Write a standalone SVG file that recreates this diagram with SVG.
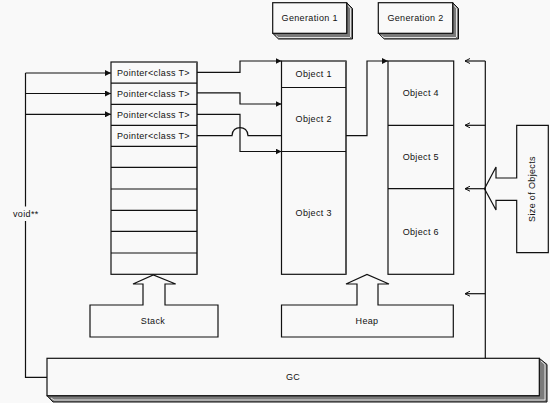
<svg xmlns="http://www.w3.org/2000/svg" width="550" height="403" viewBox="0 0 550 403">
<style>
  .bg{fill:#f9f9f9}
  .box{fill:#f9f9f9;stroke:#111;stroke-width:1.2}
  .thick{stroke:#555;stroke-width:2;fill:none}
  .depth{fill:#7a7a7a;stroke:#111;stroke-width:1}
  .hl{stroke:#fff;stroke-width:0.8;fill:none}
  .sep{stroke:#111;stroke-width:1.2}
  .con{fill:none;stroke:#111;stroke-width:1.2}
  text{font-family:"Liberation Sans",Arial,sans-serif;font-size:9px;letter-spacing:0.35px;fill:#111}
  .c{text-anchor:middle}
</style>
<defs>
  <marker id="arr" viewBox="0 0 6 6" refX="6" refY="3" markerWidth="6" markerHeight="6" markerUnits="userSpaceOnUse" orient="auto">
    <path d="M0,0 L6,3 L0,6 z" fill="#111"/>
  </marker>
  <marker id="open" viewBox="0 0 6 6" refX="6" refY="3" markerWidth="6" markerHeight="6" markerUnits="userSpaceOnUse" orient="auto">
    <path d="M1,0.5 L6,3 L1,5.5" fill="none" stroke="#111" stroke-width="1"/>
  </marker>
</defs>
<rect class="bg" x="0" y="0" width="550" height="403"/>

<g id="generation1">
  <polygon class="depth" points="346.7,2.7 352.5,8.5 352.5,39 278.5,39 272.7,33.3 346.7,33.3"/>
  <path class="hl" d="M348,5.5 L350.5,8.5 V37 M276,35.5 L278.5,37.5 H350"/>
  <rect class="box" x="272.7" y="2.7" width="74" height="30.6"/>
  <text class="c" x="309.7" y="21.2">Generation 1</text>
</g>
<g id="generation2">
  <polygon class="depth" points="452.7,2.7 458.5,8.5 458.5,39 384.3,39 378.3,33.3 452.7,33.3"/>
  <path class="hl" d="M454,5.5 L456.5,8.5 V37 M381.5,35.5 L384,37.5 H456"/>
  <rect class="box" x="378.3" y="2.7" width="74.4" height="30.6"/>
  <text class="c" x="415.5" y="21.2">Generation 2</text>
</g>

<g id="stack-column">
  <rect class="box" x="111" y="62" width="86" height="212.3"/>
  <line class="thick" x1="197" y1="62" x2="197" y2="274.3"/>
  <g class="sep">
    <line x1="111" y1="83.2" x2="197" y2="83.2"/>
    <line x1="111" y1="104.4" x2="197" y2="104.4"/>
    <line x1="111" y1="125.4" x2="197" y2="125.4"/>
    <line x1="111" y1="146.4" x2="197" y2="146.4"/>
    <line x1="111" y1="167.4" x2="197" y2="167.4"/>
    <line x1="111" y1="189" x2="197" y2="189"/>
    <line x1="111" y1="210.3" x2="197" y2="210.3"/>
    <line x1="111" y1="231.4" x2="197" y2="231.4"/>
    <line x1="111" y1="253" x2="197" y2="253"/>
  </g>
  <text x="117" y="75.8">Pointer&lt;class T&gt;</text>
  <text x="117" y="96.9">Pointer&lt;class T&gt;</text>
  <text x="117" y="118">Pointer&lt;class T&gt;</text>
  <text x="117" y="139">Pointer&lt;class T&gt;</text>
</g>

<g id="stack">
  <polygon class="box" points="90,305 143,305 143,284 133,284 153.3,275 175.7,284 165,284 165,305 218,305 218,337 90,337"/>
  <text class="c" x="153" y="324.3">Stack</text>
</g>

<g id="generation1-objects">
  <rect class="box" x="281.5" y="61" width="64.5" height="213.3"/>
  <line class="thick" x1="346" y1="61" x2="346" y2="274.3"/>
  <line class="sep" x1="281.5" y1="87.5" x2="346" y2="87.5"/>
  <line class="sep" x1="281.5" y1="151.5" x2="346" y2="151.5"/>
  <text class="c" x="313.7" y="77.3">Object 1</text>
  <text class="c" x="313.7" y="122.3">Object 2</text>
  <text class="c" x="313.7" y="215.5">Object 3</text>
</g>

<g id="generation2-objects">
  <rect class="box" x="388" y="61" width="65.7" height="213.3"/>
  <line class="sep" x1="388" y1="125.3" x2="453.7" y2="125.3"/>
  <line class="sep" x1="388" y1="188.7" x2="453.7" y2="188.7"/>
  <text class="c" x="420.8" y="95.8">Object 4</text>
  <text class="c" x="420.8" y="159.8">Object 5</text>
  <text class="c" x="420.8" y="234.8">Object 6</text>
</g>

<g id="heap">
  <polygon class="box" points="281.5,305 357,305 357,284 346,284 367,274.5 389,284 378,284 378,305 453.3,305 453.3,337 281.5,337"/>
  <text class="c" x="367" y="324.3">Heap</text>
</g>

<g id="size-of-objects">
  <polygon class="box" points="516.7,125.3 548.3,125.3 548.3,252.7 516.7,252.7 516.7,200.3 496,200.3 496,210 484.5,188.7 496,167 496,178 516.7,178"/>
  <text class="c" transform="translate(535.2,189) rotate(-90)">Size of Objects</text>
</g>

<g id="gc">
  <polygon class="depth" points="539.3,358.3 547,364.5 547,402 53,402 47,395.7 539.3,395.7"/>
  <path class="hl" d="M541,361 L545,364.5 V400 M51,398 L54,400 H545"/>
  <rect class="box" x="47" y="358.3" width="492.3" height="37.4"/>
  <text class="c" x="293" y="380">GC</text>
</g>

<g id="connectors">
  <path class="con" d="M25.5,73 V206.5"/>
  <path class="con" d="M25.5,221 V377.3 H47"/>
  <path class="con" d="M25.5,73 H111" marker-end="url(#arr)"/>
  <path class="con" d="M25.5,93.5 H111" marker-end="url(#arr)"/>
  <path class="con" d="M25.5,114.3 H111" marker-end="url(#arr)"/>
  <path class="con" d="M197,72.3 H240 V61 H281.5" marker-end="url(#arr)"/>
  <path class="con" d="M197,92.8 H240 V104 H281.5" marker-end="url(#arr)"/>
  <path class="con" d="M197,114.3 H240 V151.5 H281.5" marker-end="url(#arr)"/>
  <path class="con" d="M197,135.7 H232 C232,124.8 248,124.8 248,135.7 H281.5"/>
  <path class="con" d="M346,135.7 H367 V61 H388" marker-end="url(#arr)"/>
  <path class="con" d="M485.3,61 V358.3"/>
  <path class="con" d="M485.3,61 H465" marker-end="url(#open)"/>
  <path class="con" d="M485.3,125.3 H465" marker-end="url(#open)"/>
  <path class="con" d="M485.3,188.7 H465" marker-end="url(#open)"/>
  <path class="con" d="M485.3,293.7 H465" marker-end="url(#open)"/>
  <text x="13" y="217">void**</text>
</g>
</svg>
